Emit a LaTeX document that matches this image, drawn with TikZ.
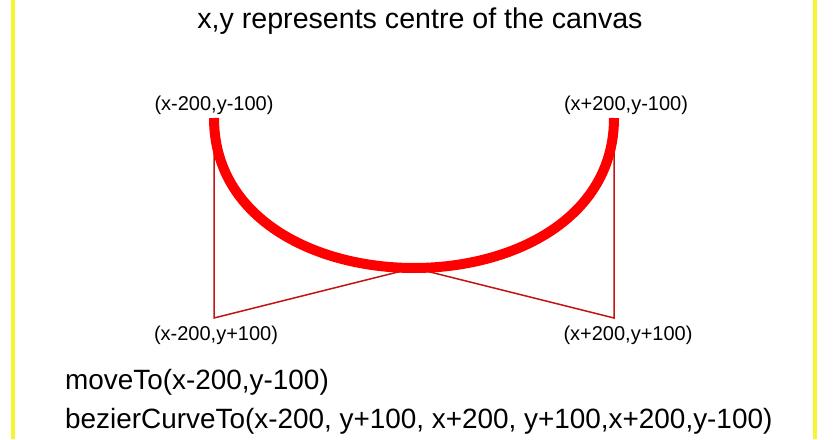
\documentclass[tikz,border=0pt]{standalone}
\usepackage{fontspec}
\setmainfont{Liberation Sans}
\usepackage{tikz}
\definecolor{borderyellow}{RGB}{245,245,50}
\definecolor{guidered}{RGB}{195,20,20}
\tikzset{
  lbl/.style={anchor=base,inner sep=0pt,font=\fontsize{20}{24}\selectfont},
  code/.style={anchor=base west,inner sep=0pt,font=\fontsize{27.9}{32}\selectfont},
  guide/.style={draw=guidered,line width=1.5pt},
  curve/.style={draw=red,line width=10pt}
}

\begin{document}
\begin{tikzpicture}[x=1pt,y=-1pt]
        \useasboundingbox (0,0) rectangle (835,439);
        \fill[borderyellow] (11,0) rectangle (15,439);
        \fill[borderyellow] (813,0) rectangle (817,439);

        \node[anchor=base,inner sep=0pt,font=\fontsize{28.6}{32}\selectfont] (title) at (420,28) {x,y represents centre of the canvas};

        \coordinate (P0) at (214,118);
        \coordinate (P1) at (214,318);
        \coordinate (P2) at (614,318);
        \coordinate (P3) at (614,118);
        \coordinate (M) at (414,268);

        \node[lbl] (l0) at (214,110) {(x-200,y-100)};
        \node[lbl] (l3) at (626,110) {(x+200,y-100)};
        \node[lbl] (l1) at (216,340) {(x-200,y+100)};
        \node[lbl] (l2) at (628,340) {(x+200,y+100)};

        \draw[guide] (P0) -- (P1) -- (M) -- (P2) -- (P3);
        \draw[curve] (P0) .. controls (P1) and (P2) .. (P3);

        \node[code] (move) at (65,389) {moveTo(x-200,y-100)};
        \node[code] (bez) at (65,428) {bezierCurveTo(x-200, y+100, x+200, y+100,x+200,y-100)};
      \end{tikzpicture}
\end{document}
